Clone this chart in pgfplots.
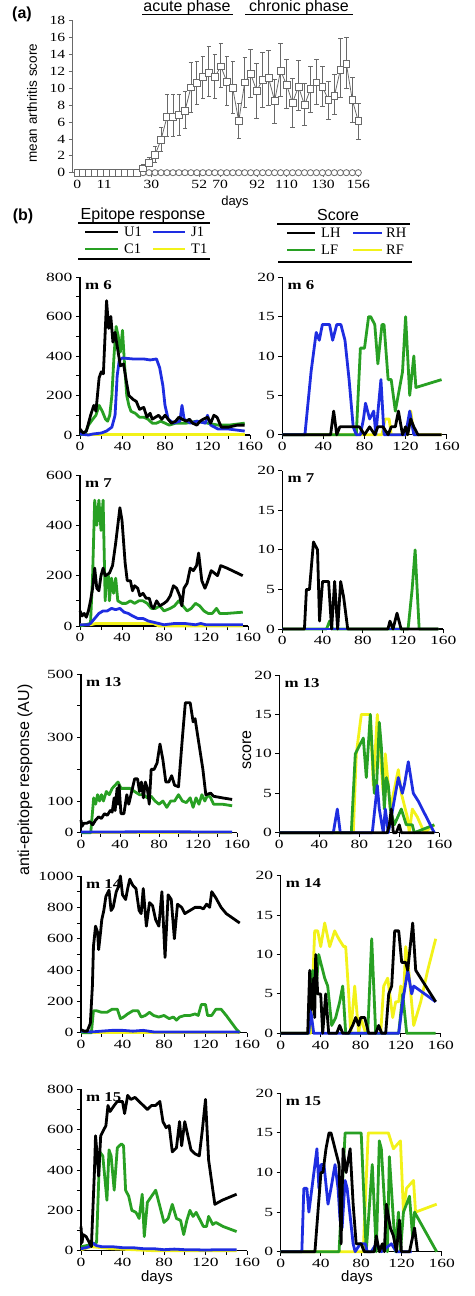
\documentclass[border=0pt]{standalone}
\usepackage{fontspec}
\setmainfont{Liberation Serif}
\setsansfont{Liberation Sans}
\newfontfamily\numfont{Liberation Serif}[FakeStretch=1.4]
\newfontfamily\labfont{Liberation Serif}[FakeStretch=1.25]
\usepackage{pgfplots}
\usepackage{pgfplotstable}
\pgfplotsset{compat=1.18}

\definecolor{cU}{RGB}{0,0,0}
\definecolor{cJ}{RGB}{30,45,225}
\definecolor{cC}{RGB}{40,160,35}
\definecolor{cT}{RGB}{242,242,25}
\definecolor{gr}{RGB}{105,105,105}

% mean arthritis score: sample index, mean, upper and lower error
\pgfplotstableread{
x y ep em
0 0 0 0
1 0 0 0
2 0 0 0
3 0 0 0
4 0 0 0
5 0 0 0
6 0 0 0
7 0 0 0
8 0 0 0
9 0 0 0
10 0 0 0
11 0.5 0.5 0.3
12 1.2 0.6 0.4
13 2.1 1.0 0.9
14 3.9 1.5 1.4
15 6.6 2.7 2.3
16 6.6 2.7 2.3
17 6.8 2.5 2.4
18 7.3 2.3 2.1
19 10.1 3.0 2.9
20 10.6 2.6 2.5
21 11.3 2.5 2.5
22 11.8 3.1 2.8
23 11.3 2.7 2.5
24 12.6 2.7 2.5
25 10.8 3.0 2.8
26 10.0 3.2 3.0
27 6.1 2.1 2.0
28 10.7 2.9 3.0
29 11.7 2.9 2.8
30 9.7 3.3 3.3
31 11.0 3.3 3.3
32 11.2 3.3 3.2
33 8.5 2.5 2.7
34 12.1 3.2 3.1
35 10.4 3.0 2.8
36 8.3 2.9 2.9
37 10.2 3.1 2.8
38 8.0 2.6 2.4
39 9.9 2.7 2.7
40 10.7 2.7 2.6
41 10.2 2.4 2.3
42 8.6 2.2 2.3
43 9.1 2.5 2.2
44 12.2 3.7 3.3
45 12.9 3.1 2.9
46 8.6 2.7 2.7
47 6.1 2.1 2.1
}\arth

\pgfplotsset{
  base/.style={scale only axis, anchor=south west,
    axis x line*=bottom, axis y line*=left,
    axis line style={-, line width=1.3pt},
    clip=false, xmin=0, xmax=160, ymin=0,
    tick align=outside, major tick length=4pt, minor tick length=4pt,
    every tick/.style={black, line width=1pt},
    tick label style={font=\fontsize{12.5}{12.5}\numfont},
    /pgf/number format/assume math mode=true,
    /pgf/number format/1000 sep={},
    xtick={0,40,...,160},
    every axis plot/.append style={line width=2.8pt, line join=round, mark=none}},
  lp/.style={base, minor x tick num=1, minor y tick num=1},
  rp/.style={base, ymax=20, ytick={0,5,...,20}},
}
\tikzset{
  mlab/.style={anchor=north west, inner sep=0pt, xshift=5pt, yshift=-3pt,
    font=\fontsize{13.5}{13.5}\labfont\bfseries},
  leg/.style={anchor=west, inner sep=0pt, font=\fontsize{14.5}{14.5}\selectfont},
}

\begin{document}
\begin{tikzpicture}
\useasboundingbox (0pt,0pt) rectangle (474pt,-1296pt);

% ---------------- (a) mean arthritis score ----------------
\node[font=\fontsize{16}{16}\sffamily\bfseries] at (22pt,-14pt) {(a)};
\node[font=\fontsize{16}{16}\sffamily, anchor=base] at (187pt,-11pt) {acute phase};
\draw[line width=1.1pt] (142pt,-14.5pt) -- (233pt,-14.5pt);
\node[font=\fontsize{16}{16}\sffamily, anchor=base] at (299pt,-11pt) {chronic phase};
\draw[line width=1.1pt] (245pt,-14.5pt) -- (353pt,-14.5pt);
\node[font=\fontsize{13.5}{13.5}\sffamily, rotate=90] at (32pt,-103pt) {mean arthritis score};
\node[font=\fontsize{13}{13}\sffamily] at (235pt,-202pt) {days};

\begin{axis}[scale only axis, anchor=south west, at={(72.7pt,-172.7pt)},
  width=288pt, height=152pt, clip=false,
  xmin=-0.77, xmax=47.4, ymin=0, ymax=18,
  axis x line*=bottom, axis y line*=left,
  axis line style={-, gr, line width=0.9pt},
  tick align=outside, major tick length=4pt,
  every tick/.style={gr, line width=0.8pt},
  tick label style={font=\fontsize{12.5}{12.5}\labfont},
  /pgf/number format/assume math mode=true,
  ytick={0,2,...,18},
  xtick={0,4.5,12.4,20.4,23.9,30.1,35,41.1,47},
  xticklabels={0,11,30,52,70,92,110,130,156}]
\addplot[only marks, mark=*, mark size=3.1pt,
  mark options={draw=gr, fill=white, line width=0.8pt}]
  coordinates {(0,0)(1,0)(2,0)(3,0)(4,0)(5,0)(6,0)(7,0)(8,0)(9,0)(10,0)(11,0)
  (12,0)(13,0)(14,0)(15,0)(16,0)(17,0)(18,0)(19,0)(20,0)(21,0)(22,0)(23,0)
  (24,0)(25,0)(26,0)(27,0)(28,0)(29,0)(30,0)(31,0)(32,0)(33,0)(34,0)(35,0)
  (36,0)(37,0)(38,0)(39,0)(40,0)(41,0)(42,0)(43,0)(44,0)(45,0)(46,0)(47,0)};
\addplot[gr, line width=0.8pt, mark=square*, mark size=3.4pt,
  mark options={fill=white, draw=gr, line width=0.8pt},
  error bars/.cd, y dir=both, y explicit,
  error bar style={gr, line width=0.8pt},
  error mark options={rotate=90, mark size=2.2pt, gr, line width=0.8pt}]
  table[x=x, y=y, y error plus=ep, y error minus=em] {\arth};
\end{axis}

% ---------------- (b) legends ----------------
\node[font=\fontsize{16}{16}\sffamily\bfseries] at (23pt,-216pt) {(b)};
\node[font=\fontsize{16}{16}\sffamily] at (143pt,-215pt) {Epitope response};
\draw[line width=1.1pt] (78pt,-223pt) -- (210pt,-223pt);
\draw[line width=1.1pt] (78pt,-259pt) -- (210pt,-259pt);
\draw[cU, line width=2.8pt] (85pt,-232pt) -- (118pt,-232pt);
\node[leg] at (124pt,-232pt) {U1};
\draw[cJ, line width=2.8pt] (153pt,-232pt) -- (185pt,-232pt);
\node[leg] at (191pt,-232pt) {J1};
\draw[cC, line width=2.8pt] (85pt,-249pt) -- (118pt,-249pt);
\node[leg] at (124pt,-249pt) {C1};
\draw[cT, line width=2.8pt] (153pt,-249pt) -- (185pt,-249pt);
\node[leg] at (191pt,-249pt) {T1};

\node[font=\fontsize{16}{16}\sffamily] at (338pt,-215pt) {Score};
\draw[line width=1.1pt] (277pt,-224pt) -- (410pt,-224pt);
\draw[line width=1.1pt] (278pt,-262pt) -- (412pt,-262pt);
\draw[cU, line width=2.8pt] (287pt,-233pt) -- (315pt,-233pt);
\node[leg] at (321pt,-233pt) {LH};
\draw[cJ, line width=2.8pt] (353pt,-233pt) -- (382pt,-233pt);
\node[leg] at (386pt,-233pt) {RH};
\draw[cC, line width=2.8pt] (287pt,-250pt) -- (315pt,-250pt);
\node[leg] at (321pt,-250pt) {LF};
\draw[cT, line width=2.8pt] (353pt,-250pt) -- (382pt,-250pt);
\node[leg] at (386pt,-250pt) {RF};

\node[font=\fontsize{16}{16}\sffamily, rotate=90] at (25pt,-780pt) {anti-epitope response (AU)};
\node[font=\fontsize{16}{16}\sffamily, rotate=90] at (247pt,-750pt) {score};
\node[font=\fontsize{15}{15}\sffamily] at (157pt,-1278pt) {days};
\node[font=\fontsize{15}{15}\sffamily] at (357pt,-1278pt) {days};

% ---------------- m 6 ----------------
\begin{axis}[lp, at={(80pt,-435pt)}, width=170pt, height=158pt, ymax=800, ytick={0,200,...,800}]
\addplot[cT] coordinates {(0,3)(40,3)(80,3)(120,3)(155,3)};
\addplot[cC] coordinates {(0,0)(5,10)(8,50)(12,80)(15,100)(18,150)(21,120)(24,80)(26,70)(28,100)(30,200)(32,400)(34,550)(36,500)(38,420)(40,530)(42,350)(44,200)(46,150)(48,120)(52,110)(56,90)(60,90)(64,80)(68,60)(72,60)(76,70)(80,60)(84,50)(90,60)(100,60)(110,70)(120,60)(130,50)(140,50)(155,60)};
\addplot[cJ] coordinates {(0,5)(8,0)(12,5)(20,10)(25,20)(30,40)(33,100)(35,300)(37,380)(40,390)(50,385)(60,385)(66,380)(72,385)(75,340)(78,250)(80,150)(83,80)(88,60)(94,70)(96,150)(98,80)(104,60)(110,70)(118,60)(120,100)(123,50)(130,30)(140,30)(155,20)};
\addplot[cU] coordinates {(0,30)(3,10)(6,20)(8,60)(10,100)(13,150)(15,120)(18,290)(20,320)(22,310)(25,680)(27,540)(29,600)(31,470)(33,520)(35,450)(38,350)(41,360)(44,260)(46,200)(50,180)(53,170)(56,130)(60,140)(63,90)(66,110)(68,80)(71,90)(74,100)(77,80)(80,100)(83,80)(86,60)(90,70)(93,90)(96,80)(100,70)(103,80)(106,60)(110,50)(113,70)(116,80)(120,90)(123,60)(126,100)(129,90)(133,40)(140,40)(148,50)(155,50)};
\node[mlab] at (rel axis cs:0,1) {m 6};
\end{axis}

\begin{axis}[rp, at={(282.3pt,-434.7pt)}, width=164.4pt, height=157.4pt]
\addplot[cT] coordinates {(0,0)(97,0)(100,2)(104,2)(106,0)(122,0)(125,3)(128,0)(155,0)};
\addplot[cC] coordinates {(0,0)(72,0)(76,11)(80,11)(84,15)(86,15)(90,14)(93,9)(97,14)(99,14)(103,7)(106,7)(110,3)(117,8)(120,15)(124,5)(128,10)(130,6)(155,7)};
\addplot[cJ] coordinates {(0,0)(22,0)(28,8)(33,13)(36,12)(39,14)(46,14)(49,12)(53,14)(57,14)(61,12)(65,7)(69,1)(72,0)(76,0)(79,2)(81,4)(85,2)(89,3)(91,0)(96,7)(99,0)(105,0)(120,0)(124,3)(128,0)(133,0)};
\addplot[cU] coordinates {(0,0)(47,0)(50,3)(53,0)(56,1)(70,1)(75,1)(80,0)(85,1)(90,0)(93,1)(98,1)(103,0)(106,1)(110,1)(113,3)(117,0)(120,1)(122,0)(125,2)(128,1)(132,0)(155,0)};
\node[mlab] at (rel axis cs:0,1) {m 6};
\end{axis}

% ---------------- m 7 ----------------
\begin{axis}[lp, at={(80pt,-626pt)}, width=168pt, height=151pt, ymax=600, ytick={0,200,...,600}]
\addplot[cT] coordinates {(0,5)(10,5)(15,10)(70,10)(75,0)(155,0)};
\addplot[cC] coordinates {(0,0)(10,10)(12,200)(14,500)(16,400)(18,500)(20,380)(22,500)(24,100)(25,200)(27,200)(28,100)(30,190)(32,130)(34,190)(36,100)(40,90)(44,90)(48,100)(52,90)(56,100)(60,100)(64,90)(68,70)(72,70)(76,80)(80,60)(86,70)(90,80)(94,100)(98,80)(102,60)(106,70)(110,90)(114,80)(118,60)(122,50)(126,50)(130,70)(133,50)(140,50)(155,55)};
\addplot[cJ] coordinates {(0,5)(8,5)(10,10)(14,30)(18,50)(22,60)(26,60)(30,70)(34,65)(38,70)(42,55)(46,50)(50,40)(55,30)(60,30)(65,20)(70,15)(75,10)(80,5)(90,10)(100,10)(110,5)(115,10)(120,5)(155,5)};
\addplot[cU] coordinates {(0,60)(2,40)(4,50)(6,35)(8,60)(10,100)(12,150)(14,230)(16,150)(18,140)(20,200)(22,230)(24,200)(28,210)(31,240)(34,330)(36,400)(38,470)(40,420)(43,250)(45,180)(48,180)(50,140)(52,160)(55,150)(57,120)(60,130)(63,110)(66,110)(68,80)(70,70)(73,100)(76,80)(80,90)(83,100)(86,120)(89,160)(92,150)(95,120)(97,80)(99,150)(102,170)(105,230)(108,220)(111,240)(113,290)(116,180)(119,150)(121,170)(125,220)(128,210)(131,200)(134,240)(140,230)(155,200)};
\node[mlab] at (rel axis cs:0,1) {m 7};
\end{axis}

\begin{axis}[rp, at={(282.3pt,-629pt)}, width=161pt, height=158.3pt]
\addplot[cT] coordinates {(0,0)(155,0)};
\addplot[cC] coordinates {(0,0)(44,0)(47,1)(50,0)(125,0)(129,5)(132,10)(134,5)(136,0)(155,0)};
\addplot[cJ] coordinates {(0,0)(155,0)};
\addplot[cU] coordinates {(0,0)(22,0)(24,5)(27,5)(31,11)(35,10)(37,1)(40,6)(46,6)(49,0)(52,6)(55,0)(58,6)(61,4)(65,0)(105,0)(107,1)(110,0)(114,2)(118,0)(155,0)};
\node[mlab] at (rel axis cs:0,1) {m 7};
\end{axis}

% ---------------- m 13 ----------------
\begin{axis}[lp, at={(81pt,-832.7pt)}, width=156pt, height=158.4pt, ymax=500,
  ytick={0,100,...,500}, yticklabels={0,100,,300,,500}, minor y tick num=0]
\addplot[cT] coordinates {(0,0)(155,0)};
\addplot[cC] coordinates {(0,0)(10,0)(13,110)(15,90)(17,120)(19,100)(21,120)(23,100)(26,130)(29,120)(32,140)(35,150)(38,160)(41,140)(45,140)(50,140)(55,130)(60,120)(64,120)(68,110)(72,115)(76,100)(80,90)(84,100)(88,80)(92,100)(96,100)(100,120)(104,100)(108,95)(112,110)(115,80)(118,110)(121,90)(124,120)(127,100)(130,120)(133,110)(136,90)(145,90)(155,85)};
\addplot[cJ] coordinates {(0,2)(80,3)(155,2)};
\addplot[cU] coordinates {(0,40)(1,20)(3,30)(6,30)(9,35)(12,25)(15,40)(18,50)(21,45)(24,60)(27,55)(30,70)(32,65)(34,110)(35,70)(37,140)(38,90)(39,150)(41,60)(44,60)(47,120)(49,90)(52,130)(55,170)(58,170)(60,130)(62,160)(64,110)(66,160)(68,140)(70,90)(72,200)(75,200)(78,220)(81,280)(84,230)(87,160)(90,160)(93,180)(96,150)(100,145)(104,300)(107,410)(112,410)(115,350)(117,360)(120,300)(125,200)(128,120)(133,125)(136,115)(145,110)(155,105)};
\node[mlab] at (rel axis cs:0,1) {m 13};
\end{axis}

\begin{axis}[rp, at={(279.3pt,-832.7pt)}, width=160pt, height=157.7pt]
\addplot[cT] coordinates {(0,0)(74,0)(77,10)(82,15)(91,15)(94,6)(98,15)(101,10)(104,5)(106,10)(109,6)(111,3)(119,8)(122,5)(128,2)(130,0)(133,3)(138,2)(145,0)(155,1)};
\addplot[cC] coordinates {(0,0)(72,0)(76,10)(80,11)(84,12)(87,7)(91,15)(95,5)(97,5)(100,14)(102,11)(105,3)(107,7)(109,6)(111,3)(115,1)(122,3)(127,1)(133,1)(135,0)(145,0.5)(155,1)};
\addplot[cJ] coordinates {(0,0)(54,0)(58,3)(61,0)(93,0)(98,6)(100,3)(104,0)(106,3)(109,0)(112,2)(119,7)(123,5)(125,6)(129,9)(134,5)(139,4)(155,0)};
\addplot[cU] coordinates {(0,0)(108,0)(110,1)(112,3)(114,0)(117,0)(120,1)(122,0)(155,0)};
\node[mlab] at (rel axis cs:0,1) {m 13};
\end{axis}

% ---------------- m 14 ----------------
\begin{axis}[lp, at={(81pt,-1032.7pt)}, width=166pt, height=156.7pt, ymax=1000, ytick={0,200,...,1000}]
\addplot[cT] coordinates {(0,0)(153,0)};
\addplot[cC] coordinates {(0,0)(10,0)(12,140)(15,140)(20,130)(25,130)(30,150)(35,150)(38,90)(41,100)(45,120)(50,140)(55,140)(58,100)(62,110)(66,130)(70,110)(75,100)(80,110)(85,90)(89,100)(92,80)(95,100)(100,110)(105,110)(110,120)(113,110)(116,180)(120,180)(122,110)(126,110)(130,150)(135,150)(140,110)(150,20)(153,0)};
\addplot[cJ] coordinates {(0,10)(10,5)(20,10)(30,15)(40,15)(50,10)(60,15)(70,5)(153,5)};
\addplot[cU] coordinates {(0,20)(3,10)(6,10)(9,60)(11,300)(12,550)(14,680)(16,640)(17,530)(19,650)(20,720)(22,780)(24,870)(27,910)(29,780)(31,800)(34,900)(36,930)(38,1000)(40,880)(43,850)(45,920)(47,980)(50,940)(53,920)(56,780)(58,760)(60,920)(63,680)(66,830)(69,810)(72,720)(75,680)(78,900)(81,480)(84,880)(87,850)(90,600)(93,820)(97,800)(100,760)(105,780)(110,800)(115,800)(118,790)(121,820)(124,800)(126,900)(130,860)(135,800)(140,760)(153,700)};
\node[mlab] at (rel axis cs:0,1) {m 14};
\end{axis}

\begin{axis}[rp, at={(280.7pt,-1033.3pt)}, width=160pt, height=157.6pt]
\addplot[cT] coordinates {(0,0)(30,0)(34,13)(37,13)(40,11)(44,14)(49,11)(54,13)(58,12)(63,11)(65,11)(68,5)(70,0)(74,6)(78,0)(80,2)(85,0)(100,0)(103,6)(107,7)(112,2)(115,4)(118,4)(120,6)(123,5)(125,11)(128,8)(133,1)(140,4)(147,8)(155,12)};
\addplot[cC] coordinates {(0,0)(28,0)(32,8)(35,5)(38,10)(44,7)(47,6)(51,1)(55,2)(59,4)(62,6)(65,0)(87,0)(91,12)(95,0)(118,0)(122,5)(126,0)(155,0)};
\addplot[cJ] coordinates {(0,0)(28,0)(30,3)(33,0)(118,0)(122,4)(127,8)(131,5)(133,6)(155,4)};
\addplot[cU] coordinates {(0,0)(27,0)(29,8)(31,3)(33,7)(34,2)(35,10)(37,5)(40,5)(42,0)(45,5)(48,0)(56,0)(59,1)(62,0)(68,0)(72,1)(75,2)(78,1)(80,2)(84,2)(88,0)(95,0)(98,1)(101,0)(105,0)(108,5)(111,6)(114,13)(118,13)(121,9)(125,9)(127,8)(132,14)(135,8)(155,4)};
\node[mlab] at (rel axis cs:0,1) {m 14};
\end{axis}

% ---------------- m 15 ----------------
\begin{axis}[lp, at={(81pt,-1250.7pt)}, width=166pt, height=161.4pt, ymax=800, ytick={0,200,...,800}]
\addplot[cT] coordinates {(0,5)(10,20)(20,15)(30,10)(50,5)(70,0)(150,0)};
\addplot[cC] coordinates {(0,20)(10,30)(15,40)(18,490)(21,470)(25,250)(27,500)(29,470)(32,300)(35,510)(39,530)(41,520)(43,300)(46,270)(49,200)(53,190)(56,160)(59,280)(61,70)(64,240)(68,270)(72,300)(76,220)(80,140)(84,160)(88,230)(92,160)(96,150)(99,80)(102,150)(105,200)(108,170)(111,190)(115,150)(118,120)(121,120)(123,170)(127,130)(130,140)(137,120)(150,95)};
\addplot[cJ] coordinates {(0,10)(5,15)(8,20)(10,45)(12,35)(15,25)(20,20)(30,20)(40,15)(50,15)(60,10)(70,10)(80,5)(90,8)(100,5)(110,5)(120,3)(130,5)(150,5)};
\addplot[cU] coordinates {(0,120)(1,40)(2,80)(5,70)(8,40)(10,20)(13,400)(14,570)(16,450)(17,370)(19,570)(22,600)(24,620)(26,720)(28,690)(32,720)(35,740)(40,740)(42,680)(45,770)(48,750)(52,760)(58,730)(64,700)(68,720)(72,720)(76,740)(79,640)(82,610)(85,620)(88,490)(92,510)(95,640)(97,520)(100,640)(103,570)(106,500)(110,480)(114,470)(117,600)(120,750)(123,450)(126,340)(129,230)(136,250)(150,280)};
\node[mlab] at (rel axis cs:0,1) {m 15};
\end{axis}

\begin{axis}[rp, at={(280.7pt,-1251.7pt)}, width=161pt, height=158.4pt]
\addplot[cT] coordinates {(0,0)(60,0)(82,0)(87,15)(107,15)(112,13)(119,14)(122,5)(125,8)(132,9)(134,5)(155,6)};
\addplot[cC] coordinates {(0,0)(58,0)(64,15)(80,15)(85,0)(91,11)(95,0)(98,14)(100,13)(106,0)(108,12)(114,0)(117,5)(119,0)(122,5)(128,7)(131,2)(133,5)(155,0)};
\addplot[cJ] coordinates {(0,0)(21,0)(23,8)(26,8)(28,5)(31,8)(33,10)(36,13)(38,8)(40,11)(43,11)(47,6)(50,8)(54,11)(57,8)(59,4)(61,3)(64,9)(66,8)(72,1)(74,0)(79,1)(84,1)(86,0)(90,0)(95,1)(100,0)(110,1)(115,0)(130,0)};
\addplot[cU] coordinates {(0,0)(34,0)(37,5)(40,10)(42,10)(45,13)(48,15)(50,15)(54,13)(58,11)(60,1)(62,13)(65,10)(69,13)(72,6)(75,1)(80,1)(83,0)(93,0)(95,2)(98,0)(101,1)(103,0)(105,6)(109,3)(112,2)(115,0)(118,4)(120,0)(128,0)(133,3)(136,0)};
\node[mlab] at (rel axis cs:0,1) {m 15};
\end{axis}

\end{tikzpicture}
\end{document}
